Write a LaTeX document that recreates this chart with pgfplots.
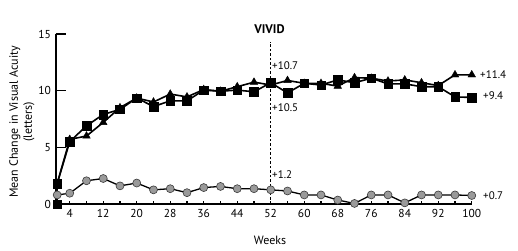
\documentclass[border=0pt]{standalone}
\usepackage{pgfplots}
\pgfplotsset{compat=1.18}
\usepackage{fontspec}
\setmainfont{PT Sans}
\definecolor{cgray}{HTML}{9A9A9A}
\definecolor{cedge}{HTML}{3A3A3A}
\begin{document}
\begin{tikzpicture}
\useasboundingbox (0pt,0pt) rectangle (518pt,250pt);
\begin{axis}[
  at={(55.5pt,46pt)}, anchor=south west,
  scale only axis, width=416.25pt, height=170pt,
  xmin=0.6, xmax=100, ymin=0, ymax=15,
  clip=false,
  axis lines=left,
  axis line style={-, line width=2pt},
  tick align=inside,
  xtick={4,8,...,100},
  xticklabels={4,{},12,{},20,{},28,{},36,{},44,{},52,{},60,{},68,{},76,{},84,{},92,{},100},
  ytick={0,5,10,15},
  xtick style={/pgfplots/major tick length=3.5pt, line width=1.3pt, black},
  ytick style={/pgfplots/major tick length=10pt, line width=1.6pt, black},
  /pgf/number format/assume math mode=true,
  ticklabel style={font=\fontsize{11.5}{13}\selectfont},
  xticklabel style={yshift=-2pt},
  yticklabel style={xshift=-1pt},
]
% dashed VIVID line
\draw[dashed, line width=0.8pt, dash pattern=on 2.5pt off 2pt] (axis cs:52,0) -- (axis cs:52,14.3);
% gray series
\addplot[line width=1.3pt, black, mark=*, mark size=4pt,
  mark options={fill=cgray, draw=cedge, line width=0.6pt}] coordinates {
(1,0.8) (4,0.95) (8,2.05) (12,2.25) (16,1.6) (20,1.85) (24,1.25) (28,1.35) (32,1.0)
(36,1.45) (40,1.55) (44,1.35) (48,1.35) (52,1.25) (56,1.15) (60,0.8) (64,0.8)
(68,0.35) (72,0.05) (76,0.8) (80,0.8) (84,0.1) (88,0.8) (92,0.8) (96,0.8) (100,0.75)
};
% triangles
\addplot[line width=1.6pt, black, mark=triangle*, mark size=4.4pt,
  mark options={fill=black, line width=0.4pt}] coordinates {
(1,0) (1,1.8) (4,5.7) (8,6.0) (12,7.2) (16,8.5) (20,9.35) (24,9.0) (28,9.7) (32,9.45)
(36,10.1) (40,9.95) (44,10.35) (48,10.75) (52,10.5) (56,10.9) (60,10.65) (64,10.65)
(68,10.4) (72,11.15) (76,11.1) (80,10.85) (84,10.95) (88,10.7) (92,10.45) (96,11.4) (100,11.4)
};
% squares
\addplot[line width=1.6pt, black, mark=square*, mark size=4.3pt,
  mark options={fill=black, line width=0.4pt}] coordinates {
(1,0) (1,1.8) (4,5.5) (8,6.9) (12,7.9) (16,8.35) (20,9.35) (24,8.6) (28,9.1) (32,9.1)
(36,10.05) (40,9.95) (44,10.05) (48,9.9) (52,10.7) (56,9.8) (60,10.65) (64,10.5)
(68,10.95) (72,10.7) (76,11.1) (80,10.6) (84,10.6) (88,10.35) (92,10.35) (96,9.45) (100,9.4)
};
\end{axis}
\node[font=\bfseries\fontsize{12.5}{14}\selectfont] at (269.5pt,221pt) {VIVID};
\begin{scope}[every node/.style={anchor=west, inner sep=0pt, font=\fontsize{11}{13}\selectfont}]
\node at (272pt,184pt) {+10.7};
\node at (272pt,142pt) {+10.5};
\node at (272pt,75pt) {+1.2};
\node at (480pt,175pt) {+11.4};
\node at (483pt,154pt) {+9.4};
\node at (483pt,54pt) {+0.7};
\end{scope}
\node[font=\fontsize{12}{14}\selectfont] at (270pt,10pt) {Weeks};
\node[rotate=90, align=center, font=\fontsize{12}{14}\selectfont] at (22pt,128pt) {Mean Change in Visual Acuity\\(letters)};
\end{tikzpicture}
\end{document}
